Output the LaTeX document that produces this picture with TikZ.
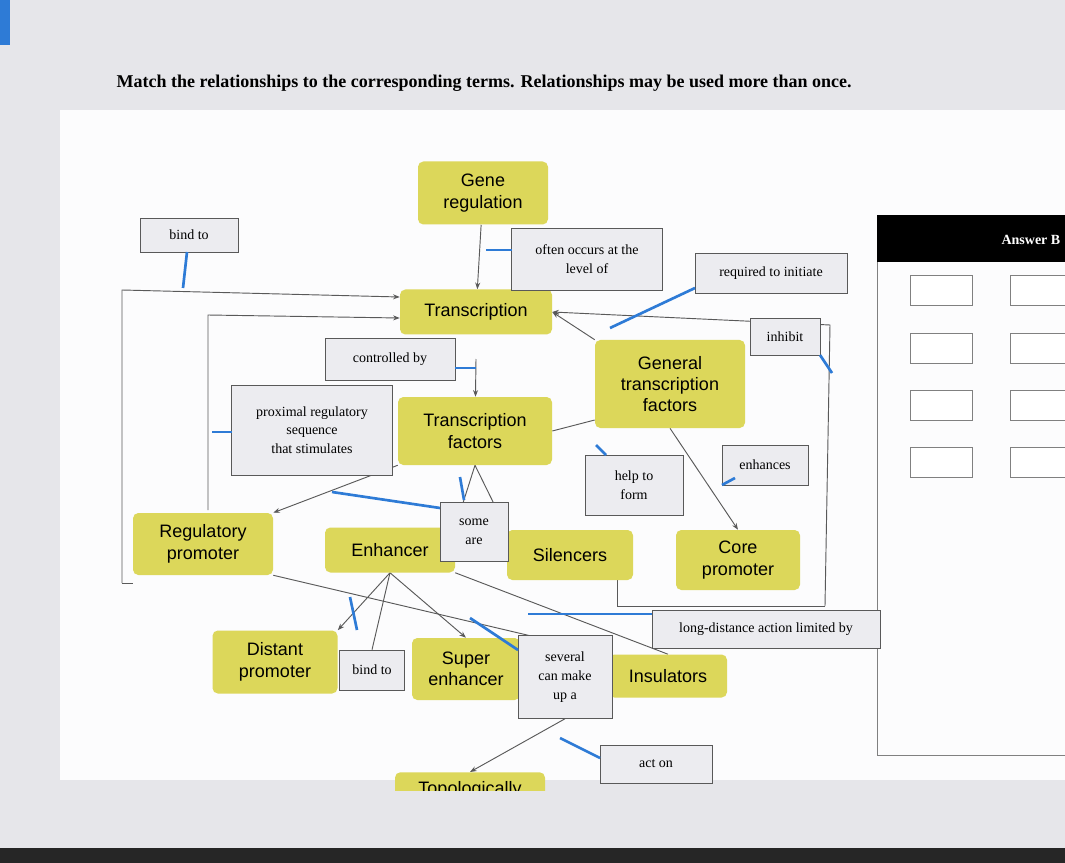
\documentclass[tikz,border=0pt]{standalone}
\usepackage{fontspec}
\setmainfont{Liberation Serif}
\newfontfamily\sans{Liberation Sans}
\usetikzlibrary{arrows.meta}
\definecolor{ylw}{HTML}{DCD75A}
\definecolor{bg}{HTML}{E6E6EA}
\definecolor{lbl}{HTML}{ECECF0}
\definecolor{blu}{HTML}{2E7BD6}
\def\p{*0.75pt}
\pgfdeclarelayer{bgl}\pgfdeclarelayer{conn}\pgfdeclarelayer{top}
\pgfsetlayers{bgl,conn,main,top}
\begin{document}
\begin{tikzpicture}[x=0.75pt,y=-0.75pt,
 term/.style={fill=ylw,rounded corners=4pt,font=\sans\fontsize{13.5}{16}\selectfont,align=center,inner sep=0pt},
 rel/.style={draw=gray!70!black,fill=lbl,font=\fontsize{10.5}{14}\selectfont,align=center,inner sep=0pt},
 ln/.style={draw=gray!70!black,line width=0.7pt},
 ar/.style={ln,-{Stealth[length=5pt]}},
 slot/.style={draw=blu,line width=2pt}]
\useasboundingbox (0,0) rectangle (1065,863);
\begin{pgfonlayer}{bgl}
\fill[bg] (0,0) rectangle (1065,863);
\fill[blu] (0,0) rectangle (10,45);
\fill[black!85] (0,848) rectangle (1065,863);
\fill[white!90!bg] (60,110) rectangle (1065,780);
\end{pgfonlayer}
\node[font=\bfseries\fontsize{13.5}{16}\selectfont,anchor=west] (title) at (112,83) {Match the relationships to the corresponding terms. Relationships may be used more than once.};
% answer panel
\draw[gray] (877,215) rectangle (1065,755);
\fill[black] (877,215) rectangle (1065,262);
\node[white,font=\bfseries\fontsize{10.5}{13}\selectfont,anchor=east] (ans) at (1065,240) {Answer B};
\foreach \yy in {290,348,405,462}{\draw[gray,fill=white] (910,\yy-15) rectangle (972,\yy+15); \draw[gray,fill=white] (1010,\yy-15) rectangle (1065,\yy+15);}
% terms
\node[term,minimum width=130\p,minimum height=63\p] (gene) at (483,193) {Gene\\regulation};
\node[term,minimum width=152\p,minimum height=45\p] (tr) at (476,312) {Transcription};
\node[term,minimum width=150\p,minimum height=88\p] (gtf) at (670,384) {General\\transcription\\factors};
\node[term,minimum width=154\p,minimum height=68\p] (tf) at (475,431) {Transcription\\factors};
\node[term,minimum width=140\p,minimum height=62\p] (rp) at (203,544) {Regulatory\\promoter};
\node[term,minimum width=130\p,minimum height=45\p] (enh) at (390,550) {Enhancer};
\node[term,minimum width=126\p,minimum height=50\p] (sil) at (570,555) {Silencers};
\node[term,minimum width=124\p,minimum height=60\p] (cp) at (738,560) {Core\\promoter};
\node[term,minimum width=125\p,minimum height=63\p] (dp) at (275,662) {Distant\\promoter};
\node[term,minimum width=108\p,minimum height=62\p] (se) at (466,669) {Super\\enhancer};
\node[term,minimum width=118\p,minimum height=43\p] (ins) at (668,676) {Insulators};
\node[term,minimum width=150\p,minimum height=36\p,anchor=north] (topo) at (470,772) {Topologically};
\begin{pgfonlayer}{top}
\fill[bg] (380,791) rectangle (560,812);
\end{pgfonlayer}
% relationship labels
\node[rel,minimum width=98\p,minimum height=34\p] (b1) at (189,235) {bind to};
\node[rel,minimum width=151\p,minimum height=62\p] (occ) at (587,259) {often occurs at the\\level of};
\node[rel,minimum width=152\p,minimum height=40\p] (req) at (771,273) {required to initiate};
\node[rel,minimum width=130\p,minimum height=42\p] (ctl) at (390,359) {controlled by};
\node[rel,minimum width=70\p,minimum height=37\p] (inh) at (785,337) {inhibit};
\node[rel,minimum width=161\p,minimum height=90\p] (prox) at (312,430) {proximal regulatory\\sequence\\that stimulates};
\node[rel,minimum width=98\p,minimum height=60\p] (help) at (634,485) {help to\\form};
\node[rel,minimum width=86\p,minimum height=40\p] (enc) at (765,465) {enhances};
\node[rel,minimum width=68\p,minimum height=59\p] (some) at (474,532) {some\\are};
\node[rel,minimum width=228\p,minimum height=38\p] (long) at (766,629) {long-distance action limited by};
\node[rel,minimum width=65\p,minimum height=40\p] (b2) at (372,670) {bind to};
\node[rel,minimum width=94\p,minimum height=83\p] (sev) at (565,677) {several\\can make\\up a};
\node[rel,minimum width=112\p,minimum height=38\p] (act) at (656,764) {act on};
\begin{pgfonlayer}{conn}
\draw[ar] (gene) -- (tr);
\draw[ar] (ctl.east -| tr) -- (tf);
\coordinate (l1) at (122,290); \coordinate (l2) at (122,583); \coordinate (l3) at (208,315);\coordinate (l4) at (208,510);
\draw[ar] (l2) -- (l1) -- (tr.west |- 0,297);
\draw[ln] (l2) -- (rp.south west |- l2);
\draw[ar] (l4) -- (l3) -- (tr.west |- 0,318);
\draw[ar] (tf.south west) -- (rp.north east);
\draw[ar] (tf.south) -- (enh.north east);
\draw[ln] (tf.south) -- (sil.north west);
\draw[ln] (tf.east) -- (gtf.west |- 0,420);
\draw[ar] (gtf.south) -- (cp.north);
\draw[ar] (gtf.north west) -- (tr.east);
\coordinate (r1) at (830,325); \coordinate (r2) at (825,606); \coordinate (r3) at (617,606);\coordinate (r4) at (617,580);
\draw[ln] (r4) -- (r3) -- (r2);
\draw[ar] (r2) -- (r1) -- (tr.east);
\draw[ar] (enh.south) -- (dp.north east);
\draw[ln] (enh.south) -- (b2.north);
\draw[ar] (enh.south) -- (se.north);
\draw[ln] (enh.south east) -- (ins.north);
\draw[ln] (rp.south east) -- (ins.north west);
\draw[ar] (sev.south) -- (topo.north);
\draw[ln] (sev.east) -- (ins.west);
\end{pgfonlayer}
% blue answer slots
\draw[slot] (187,252) -- (183,288);
\draw[slot] (486,250) -- (512,250);
\draw[slot] (610,328) -- (695,288);
\draw[slot] (820,355) -- (832,373);
\draw[slot] (455,368) -- (476,368);
\draw[slot] (212,432) -- (232,432);
\draw[slot] (332,492) -- (440,508);
\draw[slot] (460,477) -- (464,500);
\draw[slot] (596,445) -- (606,455);
\draw[slot] (722,485) -- (735,478);
\draw[slot] (350,597) -- (357,630);
\draw[slot] (528,614) -- (652,614);
\draw[slot] (470,618) -- (518,650);
\draw[slot] (560,738) -- (600,758);
\end{tikzpicture}
\end{document}
